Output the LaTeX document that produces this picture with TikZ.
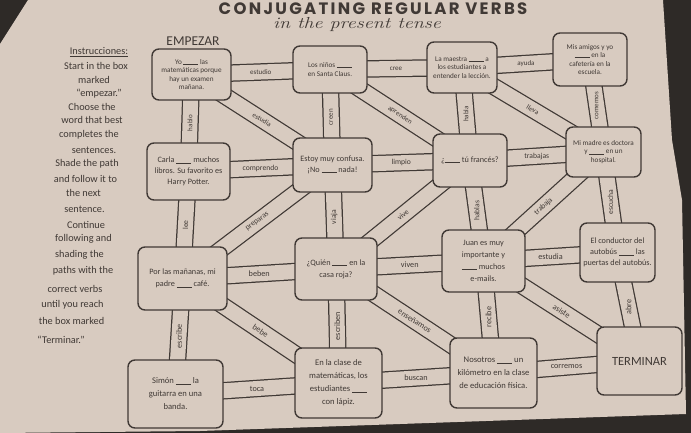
\documentclass[tikz,border=0pt]{standalone}
\usepackage{fontspec}
\setmainfont{Carlito}
\newfontfamily\titlefont[LetterSpace=14]{Poppins}
\newfontfamily\cursivefont{Latin Modern Roman}
\pgfdeclarelayer{back}
\pgfsetlayers{back,main}
\definecolor{paper}{RGB}{216,203,192}
\definecolor{ink}{RGB}{64,57,53}
\definecolor{bgdark}{RGB}{46,42,39}
\newcommand\blank{\rule[-0.3pt]{15pt}{0.45pt}}
\newcommand\rowA{\fontsize{7.2}{8.6}\selectfont}
\newcommand\rowB{\fontsize{8.2}{11}\selectfont}
\newcommand\rowC{\fontsize{8.2}{12}\selectfont}
\newcommand\rowD{\fontsize{8.6}{13}\selectfont}
\newcommand\labA{\fontsize{7}{7}\selectfont}
\newcommand\labB{\fontsize{7.6}{7.6}\selectfont}
\newcommand\labC{\fontsize{8.2}{8.2}\selectfont}
\tikzset{
  box/.style={draw=ink, line width=1.4pt, fill=paper, rounded corners=7pt, align=center, inner sep=1pt, text=ink},
  band/.style={draw=ink, line width=1.25pt, double=paper, double distance=15pt},
  lab/.style={text=ink, inner sep=0pt},
  instr/.style={text=ink, font=\fontsize{10.3}{10.3}\selectfont, inner sep=0pt}
}
\begin{document}
\begin{tikzpicture}[x=1pt,y=-1pt]
\useasboundingbox (0,0) rectangle (691,433);
% boxes
\node[box, minimum width=79pt, minimum height=51pt, font=\rowA] (yo) at (191.5,74.5) {Yo \blank\ las\\matemáticas porque\\hay un examen\\mañana.};
\node[box, minimum width=74pt, minimum height=47pt, font=\rowA] (ninos) at (330,69.5) {Los niños \blank\\en Santa Claus.};
\node[box, minimum width=70pt, minimum height=51pt, font=\rowA] (maestra) at (462,67.5) {La maestra \blank\ a\\los estudiantes a\\entender la lección.};
\node[box, minimum width=74pt, minimum height=53pt, font=\rowA] (amigos) at (590,59.5) {Mis amigos y yo\\\blank\ en la\\cafetería en la\\escuela.};
\node[box, minimum width=83pt, minimum height=57pt, font=\rowB] (carla) at (188.5,171.5) {Carla \blank\ muchos\\libros. Su favorito es\\Harry Potter.};
\node[box, minimum width=79pt, minimum height=54pt, font=\rowB] (estoy) at (332.5,165) {Estoy muy confusa.\\¡No \blank\ nada!};
\node[box, minimum width=74pt, minimum height=53pt, font=\rowB] (frances) at (470,160.5) {¿\blank\ tú francés?};
\node[box, minimum width=75pt, minimum height=50pt, font=\rowA] (madre) at (603.5,152) {Mi madre es doctora\\y \blank\ en un\\hospital.};
\node[box, minimum width=89pt, minimum height=63pt, font=\rowC] (manana) at (182.5,278.5) {Por las mañanas, mi\\padre \blank\ café.};
\node[box, minimum width=82pt, minimum height=62pt, font=\rowC] (quien) at (336,269) {¿Quién \blank\ en la\\casa roja?};
\node[box, minimum width=83pt, minimum height=62pt, font=\rowC] (juan) at (483.5,261) {Juan es muy\\importante y\\\blank\ muchos\\e-mails.};
\node[box, minimum width=75pt, minimum height=59pt, font=\rowB] (conductor) at (617.5,252.5) {El conductor del\\autobús \blank\ las\\puertas del autobús.};
\node[box, minimum width=95pt, minimum height=68pt, font=\rowD] (simon) at (175.5,394) {Simón \blank\ la\\guitarra en una\\banda.};
\node[box, minimum width=87pt, minimum height=70pt, font=\rowD] (clase) at (338.5,383) {En la clase de\\matemáticas, los\\estudiantes \blank\\con lápiz.};
\node[box, minimum width=87pt, minimum height=70pt, font=\rowD] (nosotros) at (493.5,373) {Nosotros \blank\ un\\kilómetro en la clase\\de educación física.};
\node[box, minimum width=85pt, minimum height=68pt, font=\fontsize{12.5}{12.5}\selectfont] (terminar) at (639.5,361) {TERMINAR};
% background and bands
\begin{pgfonlayer}{back}
\fill[bgdark] (0,0) rectangle (691,433);
\fill[paper] (0,44) -- (28,0) -- (663,0) -- (672,140) -- (682,200) -- (686,414) -- (200,431) -- (0,433) -- cycle;
\foreach \a/\b in {yo/ninos, ninos/maestra, maestra/amigos, yo/carla, yo/estoy, ninos/estoy, ninos/frances, maestra/frances, maestra/madre, amigos/madre, carla/estoy, estoy/frances, frances/madre, carla/manana, manana/estoy, estoy/quien, quien/frances, frances/juan, juan/madre, madre/conductor, manana/quien, quien/juan, juan/conductor, manana/simon, manana/clase, quien/clase, quien/nosotros, juan/nosotros, juan/terminar, conductor/terminar, simon/clase, clase/nosotros, nosotros/terminar}
  {\draw[band] (\a.center) -- (\b.center);}
\end{pgfonlayer}
% horizontal labels
\path (yo.center) -- (ninos.center) node[lab, midway, font=\labA] {estudio};
\path (ninos.center) -- (maestra.center) node[lab, midway, font=\labA] {cree};
\path (maestra.center) -- (amigos.center) node[lab, midway, font=\labA] {ayuda};
\path (carla.center) -- (estoy.center) node[lab, midway, font=\labB] {comprendo};
\path (estoy.center) -- (frances.center) node[lab, midway, font=\labB] {limpio};
\path (frances.center) -- (madre.center) node[lab, midway, font=\labB] {trabajas};
\path (manana.center) -- (quien.center) node[lab, midway, font=\labC] {beben};
\path (quien.center) -- (juan.center) node[lab, midway, font=\labC] {viven};
\path (juan.center) -- (conductor.center) node[lab, midway, font=\labC] {estudia};
\path (simon.center) -- (clase.center) node[lab, midway, font=\labC] {toca};
\path (clase.center) -- (nosotros.center) node[lab, midway, font=\labC] {buscan};
\path (nosotros.center) -- (terminar.center) node[lab, midway, font=\labC] {corremos};
% vertical labels
\path (carla.center) -- (yo.center) node[lab, midway, rotate=90, font=\labA] {hablo};
\path (estoy.center) -- (ninos.center) node[lab, midway, rotate=90, font=\labA] {creen};
\path (frances.center) -- (maestra.center) node[lab, midway, rotate=90, font=\labA] {habla};
\path (madre.center) -- (amigos.center) node[lab, midway, rotate=90, font=\labA] {comemos};
\path (manana.center) -- (carla.center) node[lab, midway, rotate=90, font=\labB] {lee};
\path (quien.center) -- (estoy.center) node[lab, midway, rotate=90, font=\labB] {viaja};
\path (juan.center) -- (frances.center) node[lab, midway, rotate=90, font=\labB] {hablas};
\path (conductor.center) -- (madre.center) node[lab, midway, rotate=90, font=\labB] {escucha};
\path (simon.center) -- (manana.center) node[lab, midway, rotate=90, font=\labC] {escribe};
\path (clase.center) -- (quien.center) node[lab, midway, rotate=90, font=\labC] {escriben};
\path (nosotros.center) -- (juan.center) node[lab, midway, rotate=90, font=\labC] {recibe};
\path (terminar.center) -- (conductor.center) node[lab, midway, rotate=90, font=\labC] {abre};
% diagonal labels
\path (yo.center) -- (estoy.center) node[lab, midway, sloped, font=\labA] {estudia};
\path (ninos.center) -- (frances.center) node[lab, midway, sloped, font=\labA] {aprenden};
\path (maestra.center) -- (madre.center) node[lab, midway, sloped, font=\labA] {lleva};
\path (manana.center) -- (estoy.center) node[lab, midway, sloped, font=\labB] {preparas};
\path (quien.center) -- (frances.center) node[lab, midway, sloped, font=\labB] {vive};
\path (juan.center) -- (madre.center) node[lab, midway, sloped, font=\labB] {trabaja};
\path (manana.center) -- (clase.center) node[lab, midway, sloped, font=\labC] {bebe};
\path (quien.center) -- (nosotros.center) node[lab, midway, sloped, font=\labC] {enseñamos};
\path (juan.center) -- (terminar.center) node[lab, midway, sloped, font=\labC] {asiste};
% titles
\node[text=ink, font=\titlefont\bfseries\fontsize{16.5}{16.5}\selectfont, inner sep=0pt] (title) at (373,9) {CONJUGATING REGULAR VERBS};
\node[text=ink, font=\cursivefont\itshape\fontsize{16}{16}\selectfont, inner sep=0pt] (subtitle) at (357,25) {\scalebox{1.25}[1]{in the present tense}};
\node[text=ink, font=\fontsize{13.5}{13.5}\selectfont, inner sep=0pt] (empezar) at (193,41) {EMPEZAR};
% instructions
\node[instr] (i1) at (99,52) {\underline{Instrucciones:}};
\node[instr] (i2) at (96,66) {Start in the box};
\node[instr] (i3) at (94,80) {marked};
\node[instr] (i4) at (99,94) {“empezar.”};
\node[instr] (i5) at (92,107) {Choose the};
\node[instr] (i6) at (92,120) {word that best};
\node[instr] (i7) at (89,135) {completes the};
\node[instr] (i8) at (94,150) {sentences.};
\node[instr] (i9) at (87,164) {Shade the path};
\node[instr] (i10) at (85.5,179) {and follow it to};
\node[instr] (i11) at (83.5,193) {the next};
\node[instr] (i12) at (84.5,209) {sentence.};
\node[instr] (i13) at (86,225) {Continue};
\node[instr] (i14) at (83.5,239) {following and};
\node[instr] (i15) at (79.5,255) {shading the};
\node[instr] (i16) at (83,271) {paths with the};
\node[instr] (i17) at (75,289) {correct verbs};
\node[instr] (i18) at (72.5,305) {until you reach};
\node[instr] (i19) at (71.5,321) {the box marked};
\node[instr] (i20) at (61,340) {“Terminar.”};
\end{tikzpicture}
\end{document}
